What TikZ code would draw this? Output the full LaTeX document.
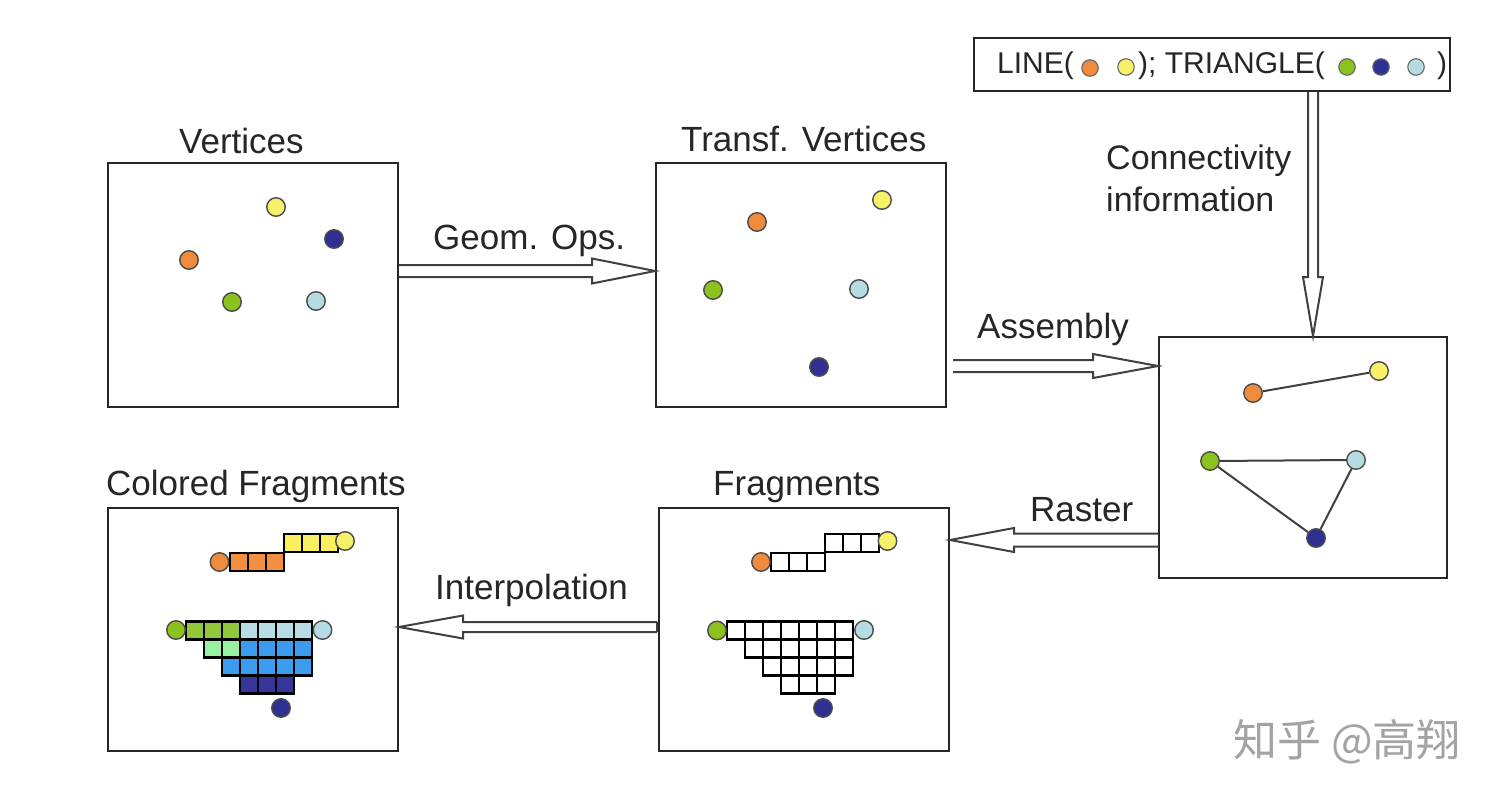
\documentclass[tikz,border=0pt]{standalone}
\usepackage{fontspec}
\setmainfont{Liberation Sans}
\newfontfamily\cjk{Noto Sans CJK SC}
\usetikzlibrary{calc}
\definecolor{dOr}{HTML}{F08A3C}
\definecolor{dYe}{HTML}{F6F168}
\definecolor{dGr}{HTML}{8CC21E}
\definecolor{dNv}{HTML}{2E3192}
\definecolor{dLb}{HTML}{B4DCE2}
\definecolor{sOr}{HTML}{F29040}
\definecolor{sYe}{HTML}{F8F060}
\definecolor{sGr}{HTML}{92C63C}
\definecolor{sLb}{HTML}{B6DDE2}
\definecolor{sLg}{HTML}{98F0A0}
\definecolor{sBl}{HTML}{3C9CEE}
\definecolor{sNv}{HTML}{35359A}
\newcommand\hollowh[5]{%
  \draw[hollow] ($(#1)+(0,-#3)$) -- ($(#2)+(#5,-#3)$) -- ($(#2)+(#5,-#4)$) -- (#2)
    -- ($(#2)+(#5,#4)$) -- ($(#2)+(#5,#3)$) -- ($(#1)+(0,#3)$);}
\newcommand\hollowv[5]{%
  \draw[hollow] ($(#1)+(-#3,0)$) -- ($(#2)+(-#3,#5)$) -- ($(#2)+(-#4,#5)$) -- (#2)
    -- ($(#2)+(#4,#5)$) -- ($(#2)+(#3,#5)$) -- ($(#1)+(#3,0)$);}
\newcommand\cellsrow[4]{%
  \foreach \k in {1,...,#3} {\filldraw[cellbox, fill=#4] ({#1+(\k-1)*18},#2) rectangle ++(18,18);}}
\newcommand\fraggrid[8]{%
  \cellsrow{230+#1}{553}{3}{#7}
  \cellsrow{284+#1}{534}{3}{#8}
  \cellsrow{186+#1}{621.5}{3}{#2}
  \cellsrow{240+#1}{621.5}{4}{#3}
  \cellsrow{204+#1}{639.5}{2}{#4}
  \cellsrow{240+#1}{639.5}{4}{#5}
  \cellsrow{222+#1}{657.5}{5}{#5}
  \cellsrow{240+#1}{675.5}{3}{#6}}
\begin{document}
\begin{tikzpicture}[x=1pt,y=-1pt,
  panel/.style={draw=black!85, line width=2, inner sep=0, fill=none},
  lab/.style={anchor=base west, inner sep=0, font=\fontsize{35}{40}\selectfont, text=black!85},
  small/.style={anchor=base west, inner sep=0, font=\fontsize{30}{34}\selectfont, text=black!85},
  dot/.style={circle, draw=black!70, line width=1.4, minimum size=18.5, inner sep=0},
  sdot/.style={circle, draw=black!60, line width=1.1, minimum size=16.5, inner sep=0},
  hollow/.style={draw=black!75, line width=2, line join=miter},
  edge/.style={draw=black!75, line width=2},
  cellbox/.style={draw=black, line width=2.6}]
\useasboundingbox[fill=white] (0,0) rectangle (1504,800);

% panels
\node[panel, minimum width=290, minimum height=244] (vbox) at (253,285) {};
\node[panel, minimum width=290, minimum height=244] (tbox) at (801,285) {};
\node[panel, minimum width=288, minimum height=241] (abox) at (1303,457.5) {};
\node[panel, minimum width=290, minimum height=243] (fbox) at (804,629.5) {};
\node[panel, minimum width=290, minimum height=243] (cbox) at (253,629.5) {};
\node[panel, minimum width=476, minimum height=53] (topbox) at (1212,64.5) {};

% titles
\node[lab] (vlab) at (179,153) {Vertices};
\node[lab] (tlab) at (681,151) {Transf. Vertices};
\node[lab] (clab) at (106,495) {Colored Fragments};
\node[lab] (flab) at (713,495) {Fragments};

% arrow labels
\node[lab] (geom) at (433,249) {Geom. Ops.};
\node[lab] (asm) at (977,338) {Assembly};
\node[lab] (ras) at (1030,521.5) {Raster};
\node[lab] (intp) at (435,599) {Interpolation};
\node[lab, font=\fontsize{34}{42}\selectfont, align=left, anchor=north west] (conn) at (1106,145) {Connectivity\\information};

% top box contents
\node[small] (tl1) at (997,74) {LINE(};
\node[sdot, fill=dOr] (q1) at (1090,68) {};
\node[sdot, fill=dYe] (q2) at (1126,67) {};
\node[small] (tl2) at (1138,74) {); TRIANGLE(};
\node[sdot, fill=dGr] (q3) at (1347,67) {};
\node[sdot, fill=dNv] (q4) at (1381,67) {};
\node[sdot, fill=dLb] (q5) at (1416,67) {};
\node[small] (tl3) at (1437,74) {)};

% vertices
\node[dot, fill=dYe] (v1) at (276,207) {};
\node[dot, fill=dNv] (v2) at (334,239) {};
\node[dot, fill=dOr] (v3) at (189,260) {};
\node[dot, fill=dGr] (v4) at (232,302) {};
\node[dot, fill=dLb] (v5) at (316,301) {};

% transformed vertices
\node[dot, fill=dOr] (t1) at (757,222) {};
\node[dot, fill=dYe] (t2) at (882,200) {};
\node[dot, fill=dGr] (t3) at (713,290) {};
\node[dot, fill=dLb] (t4) at (859,289) {};
\node[dot, fill=dNv] (t5) at (819,367) {};

% assembly
\node[dot, fill=dOr] (a1) at (1253,393) {};
\node[dot, fill=dYe] (a2) at (1379,371) {};
\node[dot, fill=dGr] (a3) at (1210,461) {};
\node[dot, fill=dLb] (a4) at (1356,460) {};
\node[dot, fill=dNv] (a5) at (1316,538) {};
\draw[edge] (a1) -- (a2);
\draw[edge] (a3) -- (a4);
\draw[edge] (a3) -- (a5);
\draw[edge] (a4) -- (a5);

% fragments
\fraggrid{0}{sGr}{sLb}{sLg}{sBl}{sNv}{sOr}{sYe}
\fraggrid{541}{white}{white}{white}{white}{white}{white}{white}
\node[dot, fill=dOr] (c1) at (219.5,562) {};
\node[dot, fill=dYe] (c2) at (345,541) {};
\node[dot, fill=dGr] (c3) at (176,630) {};
\node[dot, fill=dLb] (c4) at (322.5,630) {};
\node[dot, fill=dNv] (c5) at (281,708) {};
\node[dot, fill=dOr] (f1) at (761,562) {};
\node[dot, fill=dYe] (f2) at (887.5,541) {};
\node[dot, fill=dGr] (f3) at (717,630.5) {};
\node[dot, fill=dLb] (f4) at (864,630) {};
\node[dot, fill=dNv] (f5) at (823,708) {};

% arrows
\coordinate (g1) at (vbox.east |- 0,271);
\coordinate (g2) at (tbox.west |- 0,271);
\hollowh{g1}{g2}{6}{12.5}{-63}
\coordinate (s1) at (953,366);
\coordinate (s2) at (abox.west |- 0,366);
\hollowh{s1}{s2}{6}{12}{-65}
\coordinate (r1) at (abox.west |- 0,540);
\coordinate (r2) at (fbox.east |- 0,540);
\hollowh{r1}{r2}{6.5}{12}{64}
\coordinate (i1) at (657,627);
\coordinate (i2) at (cbox.east |- 0,627);
\hollowh{i1}{i2}{5}{11.5}{64}
\draw[hollow] ($(i1)+(0,-5)$) -- ($(i1)+(0,5)$);
\coordinate (k1) at (topbox.south -| 1313,0);
\coordinate (k2) at (abox.north -| 1313,0);
\hollowv{k1}{k2}{5}{10}{-59}

% watermark
\node[anchor=base west, inner sep=0, font=\cjk\fontsize{44}{50}\selectfont, text=black!36] (wm) at (1233,756) {知乎 @高翔};
\end{tikzpicture}
\end{document}
